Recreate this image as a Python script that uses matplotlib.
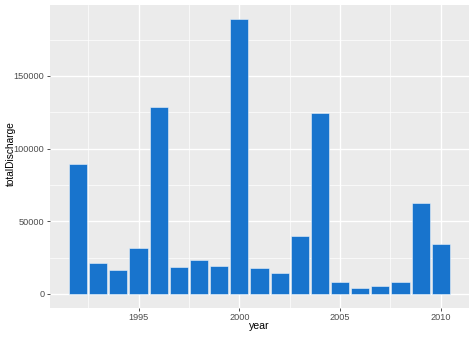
import matplotlib
matplotlib.use("Agg")
import matplotlib.pyplot as plt

plt.rcParams["font.family"] = ["Liberation Sans", "DejaVu Sans"]

# yearly totals
years = list(range(1992, 2011))
totalDischarge = [89600, 21100, 16500, 31900, 128600, 18300, 23200, 19300, 189100,
                  17700, 14200, 40100, 124300, 8500, 4100, 5500, 8500, 62400, 34200]
x_ticks = [1995, 2000, 2005, 2010]
y_ticks = [0, 50000, 100000, 150000]

W, H = 474, 338
fig = plt.figure(figsize=(W / 100, H / 100), dpi=100)
ax = fig.add_axes([50 / W, 30.3 / H, 418.9 / W, 302.4 / H])
ax.set_facecolor("#EBEBEB")

# ggplot-like grid
for yy in range(0, 200001, 25000):
    major = yy % 50000 == 0
    ax.axhline(yy, color="white", lw=1.0 if major else 0.5, zorder=0)
for xx in [1992.5 + 2.5 * i for i in range(8)]:
    major = xx in x_ticks
    ax.axvline(xx, color="white", lw=1.0 if major else 0.5, zorder=0)

ax.bar(years, totalDischarge, width=0.9, color="#1874CD", edgecolor="#EAF3FB",
       linewidth=0.4, zorder=2)

lo, hi = min(years) - 0.45, max(years) + 0.45
pad = (hi - lo) * 0.05
ax.set_xlim(lo - pad, hi + pad)
ymax = max(totalDischarge)
ax.set_ylim(-ymax * 0.05, ymax * 1.05)

ax.set_xticks(x_ticks)
ax.set_yticks(y_ticks)
ax.set_xticklabels([str(v) for v in x_ticks])
ax.set_yticklabels([str(v) for v in y_ticks])
ax.tick_params(colors="#333333", labelcolor="#4D4D4D", labelsize=6.6, length=2.5, width=0.6, pad=1.5)
for s in ax.spines.values():
    s.set_visible(False)

# axis titles placed by hand like the reference
fig.text(259 / W, 1 - 326 / H, "year", fontsize=7.6, ha="center", va="center")
fig.text(11 / W, 1 - 154 / H, "totalDischarge", fontsize=7.3, rotation=90,
         ha="center", va="center")

fig.savefig("out.png", dpi=100)
